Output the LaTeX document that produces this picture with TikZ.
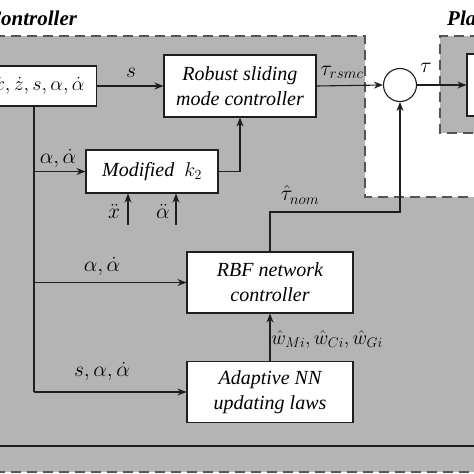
\documentclass[tikz,border=0pt]{standalone}
\usepackage{fix-cm}
\usepackage{fontspec}
\setmainfont{Liberation Serif}
\usetikzlibrary{arrows.meta}
\definecolor{bggray}{RGB}{180,180,180}
\definecolor{dashgray}{RGB}{85,85,85}
\definecolor{ink}{RGB}{30,30,30}
\tikzset{
  dashbd/.style={draw=dashgray, line width=1.3pt, dash pattern=on 10pt off 6pt},
  blk/.style={draw=ink, fill=white, line width=1.1pt, inner sep=0pt, align=center,
    font=\fontsize{20}{25}\selectfont\itshape},
  conn/.style={draw=ink, line width=1.1pt},
  arr/.style={conn, -{Stealth[length=9pt,width=7pt]}},
  lbl/.style={inner sep=0pt, font=\fontsize{21.5}{25}\selectfont},
  ttl/.style={inner sep=0pt, font=\fontsize{21}{25}\selectfont\bfseries\itshape}
}
\begin{document}
\begin{tikzpicture}[x=1pt,y=-1pt]
\useasboundingbox (0,0) rectangle (474,474);
\clip (0,0) rectangle (474,474);
% regions
\fill[bggray] (-5,36) -- (365,36) -- (365,197) -- (480,197) -- (480,472) -- (-5,472) -- cycle;
\draw[dashbd] (-5,36) -- (365,36) -- (365,197) -- (480,197);
\draw[dashbd] (-5,472) -- (480,472);
\fill[bggray] (440,36) rectangle (480,133);
\draw[dashbd] (480,36) -- (440,36) -- (440,133) -- (480,133);
\draw[ink, line width=1.2pt] (-5,446) -- (480,446);
% titles
\node[ttl, anchor=base west] (tc) at (-13,25) {Controller};
\node[ttl, anchor=base west] (tp) at (447,25) {Plant};
% blocks
\node[blk, anchor=east, minimum height=40pt, inner xsep=12pt, font=\fontsize{20}{25}\selectfont] (inp) at (97,86) {$\dot{x},\dot{z},s,\alpha,\dot{\alpha}$};
\node[blk, minimum width=152pt, minimum height=62pt] (rob) at (240,86) {Robust sliding\\mode controller};
\node[blk, minimum width=132pt, minimum height=43pt] (mod) at (152,171.5) {Modified~~$k_2$};
\node[blk, minimum width=166pt, minimum height=61pt] (rbf) at (270,282.5) {RBF network\\controller};
\node[blk, minimum width=166pt, minimum height=61pt] (ada) at (270,392) {Adaptive NN\\updating laws};
\node[circle, draw=ink, fill=white, line width=1.1pt, minimum size=33pt, inner sep=0pt] (sum) at (400,85) {};
\node[blk, minimum width=53pt, minimum height=62pt] (plant) at (493.5,85) {};
% coordinates
\coordinate (tk) at (34,392);
\coordinate (xa) at (128,225);
\coordinate (aa) at (176,225);
\coordinate (knee) at (400,212);
% connectors
\draw[arr] (inp.east) -- (rob.west);
\draw[arr] (rob.east) -- (sum.west);
\draw[arr] (sum.east) -- (plant.west);
\draw[conn] (inp.south -| tk) -- (tk);
\draw[arr] (mod.west -| tk) -- (mod.west);
\draw[arr] (rbf.west -| tk) -- (rbf.west);
\draw[arr] (tk) -- (ada.west);
\draw[arr] (mod.east) -| (rob.south);
\draw[arr] (xa) -- (xa |- mod.south);
\draw[arr] (aa) -- (aa |- mod.south);
\draw[arr] (rbf.north) |- (knee) -- (sum.south);
\draw[arr] (ada.north) -- (rbf.south);
% labels
\node[lbl] (ls) at (131,73) {$s$};
\node[lbl] (lr) at (342,72) {$\tau_{rsmc}$};
\node[lbl] (lt) at (426,68) {$\tau$};
\node[lbl] (lm) at (58,159) {$\alpha,\dot{\alpha}$};
\node[lbl] (lb) at (102,267) {$\alpha,\dot{\alpha}$};
\node[lbl] (la) at (102,372) {$s,\alpha,\dot{\alpha}$};
\node[lbl] (lx) at (114,211) {$\ddot{x}$};
\node[lbl] (lxa) at (163,211) {$\ddot{\alpha}$};
\node[lbl] (ln) at (300,195) {$\hat{\tau}_{nom}$};
\node[lbl, font=\fontsize{20}{25}\selectfont] (lw) at (327,339) {$\hat{w}_{Mi},\hat{w}_{Ci},\hat{w}_{Gi}$};
\end{tikzpicture}
\end{document}
